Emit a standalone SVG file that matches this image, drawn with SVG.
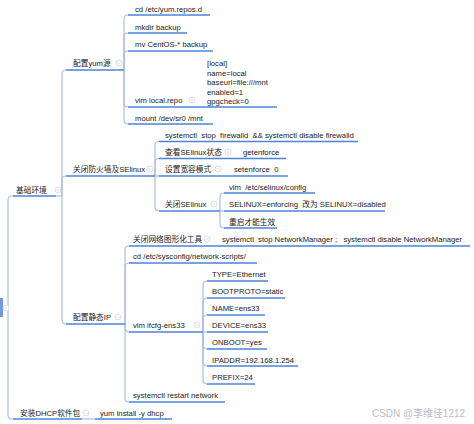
<svg xmlns="http://www.w3.org/2000/svg" width="474" height="424" viewBox="0 0 474 424">
<defs>
<style>
.t{font-family:"Liberation Sans","Noto Sans CJK SC",sans-serif;font-size:7.7px;fill:#222;white-space:pre}
.ul{stroke:#4a84d6;stroke-width:1.6;fill:none}
.c{stroke:#a9bfe3;stroke-width:1.2;fill:none}
.ic{fill:#fff;stroke:#cfd5df;stroke-width:0.8}
.im{stroke:#cfd5df;stroke-width:0.8}
.wm{font-family:"Liberation Sans","Noto Sans CJK SC",sans-serif;font-size:10.5px;fill:#bdbdbd}
</style>
<g id="icon"><circle class="ic" cx="0" cy="0" r="3"/><line class="im" x1="-1.6" y1="0" x2="1.6" y2="0"/></g>
</defs>
<rect width="474" height="424" fill="#fff"/>

<g id="connectors">
<path class="c" d="M3 308 H8"/>
<path class="c" d="M8 308 V200 Q8 196 12 196 H13"/>
<path class="c" d="M8 308 V415 Q8 419 12 419 H13"/>
<path class="c" d="M56 196 H62"/>
<path class="c" d="M62 196 V74 Q62 70 66 70"/>
<path class="c" d="M62 196 V180 Q62 176 66 176"/>
<path class="c" d="M62 196 V320 Q62 324 66 324"/>
<path class="c" d="M124 70 V19 Q124 15 128 15"/>
<path class="c" d="M124 70 V37 Q124 33 128 33"/>
<path class="c" d="M124 70 V55 Q124 51 128 51"/>
<path class="c" d="M124 70 V103 Q124 107 128 107"/>
<path class="c" d="M124 70 V120 Q124 124 128 124"/>
<path class="c" d="M155 176 V145.5 Q155 141.5 159 141.5"/>
<path class="c" d="M155 176 V162.5 Q155 158.5 159 158.5"/>
<path class="c" d="M155 176 H159"/>
<path class="c" d="M155 176 V207 Q155 211 159 211"/>
<path class="c" d="M220 211 V197 Q220 193 224 193"/>
<path class="c" d="M220 211 H224"/>
<path class="c" d="M220 211 V224 Q220 228 224 228"/>
<path class="c" d="M125 324 V250 Q125 246 129 246"/>
<path class="c" d="M125 324 V267 Q125 263 129 263"/>
<path class="c" d="M125 324 V328 Q125 332 129 332"/>
<path class="c" d="M125 324 V398 Q125 402 129 402"/>
<path class="c" d="M203 332 V285 Q203 281 207 281"/>
<path class="c" d="M203 332 V302 Q203 298 207 298"/>
<path class="c" d="M203 332 V319 Q203 315 207 315"/>
<path class="c" d="M203 332 H207"/>
<path class="c" d="M203 332 V345 Q203 349 207 349"/>
<path class="c" d="M203 332 V362 Q203 366 207 366"/>
<path class="c" d="M203 332 V380 Q203 384 207 384"/>
<path class="c" d="M82 419 H95"/>
</g>

<g id="root">
<rect x="0" y="298" width="3" height="19" fill="#6e9be0"/>
<use href="#icon" x="6" y="308"/>
</g>

<g id="n-jichu">
<text class="t" x="16" y="193">基础环境</text>
<line class="ul" x1="13" y1="196" x2="56" y2="196"/>
<use href="#icon" x="58" y="190"/>
</g>

<g id="n-dhcp">
<text class="t" x="20" y="416">安装DHCP软件包</text>
<line class="ul" x1="13" y1="419" x2="82" y2="419"/>
<use href="#icon" x="86" y="413"/>
</g>
<g id="n-dhcp-1">
<text class="t" x="100" y="416">yum install -y dhcp</text>
<line class="ul" x1="95" y1="419" x2="172" y2="419"/>
</g>

<g id="n-yum">
<text class="t" x="73" y="66">配置yum源</text>
<line class="ul" x1="66" y1="70" x2="124" y2="70"/>
<use href="#icon" x="119" y="63"/>
</g>
<g id="n-yum-1"><text class="t" x="135" y="12">cd /etc/yum.repos.d</text><line class="ul" x1="128" y1="15" x2="210" y2="15"/></g>
<g id="n-yum-2"><text class="t" x="135" y="30">mkdir backup</text><line class="ul" x1="128" y1="33" x2="187" y2="33"/></g>
<g id="n-yum-3"><text class="t" x="135" y="47">mv CentOS-* backup</text><line class="ul" x1="128" y1="51" x2="213" y2="51"/></g>
<g id="n-yum-4"><text class="t" x="135" y="103">vim local.repo</text><line class="ul" x1="128" y1="107" x2="202" y2="107"/><use href="#icon" x="192" y="100"/></g>
<g id="n-yum-4-1">
<text class="t" x="207" y="66">[local]</text>
<text class="t" x="207" y="75.5">name=local</text>
<text class="t" x="207" y="85">baseurl=file:///mnt</text>
<text class="t" x="207" y="94.5">enabled=1</text>
<text class="t" x="207" y="104">gpgcheck=0</text>
<line class="ul" x1="202" y1="107" x2="277" y2="107"/>
</g>
<g id="n-yum-5"><text class="t" x="135" y="121">mount /dev/sr0 /mnt</text><line class="ul" x1="128" y1="124" x2="213" y2="124"/></g>

<g id="n-fw">
<text class="t" x="73" y="172">关闭防火墙及SElinux</text>
<line class="ul" x1="66" y1="176" x2="155" y2="176"/>
<use href="#icon" x="150" y="169"/>
</g>
<g id="n-fw-1"><text class="t" x="165" y="138">systemctl  stop  firewalld  &amp;&amp; systemctl disable firewalld</text><line class="ul" x1="159" y1="141.5" x2="358" y2="141.5"/></g>
<g id="n-fw-2"><text class="t" x="165" y="155">查看SElinux状态</text><line class="ul" x1="159" y1="158.5" x2="235" y2="158.5"/><use href="#icon" x="228" y="152"/></g>
<g id="n-fw-2-1"><text class="t" x="243" y="155">getenforce</text><line class="ul" x1="235" y1="158.5" x2="286" y2="158.5"/></g>
<g id="n-fw-3"><text class="t" x="165" y="172">设置宽容模式</text><line class="ul" x1="159" y1="176" x2="229" y2="176"/><use href="#icon" x="218" y="169"/></g>
<g id="n-fw-3-1"><text class="t" x="234" y="172">setenforce  0</text><line class="ul" x1="229" y1="176" x2="288" y2="176"/></g>
<g id="n-fw-4"><text class="t" x="165" y="207">关闭SElinux</text><line class="ul" x1="159" y1="211" x2="220" y2="211"/><use href="#icon" x="214" y="204"/></g>
<g id="n-fw-4-1"><text class="t" x="229" y="190">vim  /etc/selinux/config</text><line class="ul" x1="224" y1="193" x2="315" y2="193"/></g>
<g id="n-fw-4-2"><text class="t" x="229" y="207">SELINUX=enforcing  改为 SELINUX=disabled</text><line class="ul" x1="224" y1="211" x2="385" y2="211"/></g>
<g id="n-fw-4-3"><text class="t" x="229" y="225">重启才能生效</text><line class="ul" x1="224" y1="228" x2="277" y2="228"/></g>

<g id="n-ip">
<text class="t" x="73" y="320">配置静态IP</text>
<line class="ul" x1="66" y1="324" x2="125" y2="324"/>
<use href="#icon" x="118" y="317"/>
</g>
<g id="n-ip-1"><text class="t" x="133" y="242">关闭网络图形化工具</text><line class="ul" x1="129" y1="246" x2="215" y2="246"/><use href="#icon" x="207" y="239"/></g>
<g id="n-ip-1-1"><text class="t" x="222" y="242" textLength="240" lengthAdjust="spacing">systemctl  stop NetworkManager ;   systemctl disable NetworkManager</text><line class="ul" x1="215" y1="246" x2="470" y2="246"/></g>
<g id="n-ip-2"><text class="t" x="133" y="259">cd /etc/sysconfig/network-scripts/</text><line class="ul" x1="129" y1="263" x2="257" y2="263"/></g>
<g id="n-ip-3"><text class="t" x="133" y="328">vim ifcfg-ens33</text><line class="ul" x1="129" y1="332" x2="203" y2="332"/><use href="#icon" x="197" y="325"/></g>
<g id="n-ip-3-1"><text class="t" x="212" y="277">TYPE=Ethernet</text><line class="ul" x1="207" y1="281" x2="268" y2="281"/></g>
<g id="n-ip-3-2"><text class="t" x="212" y="294">BOOTPROTO=static</text><line class="ul" x1="207" y1="298" x2="285" y2="298"/></g>
<g id="n-ip-3-3"><text class="t" x="212" y="311">NAME=ens33</text><line class="ul" x1="207" y1="315" x2="265" y2="315"/></g>
<g id="n-ip-3-4"><text class="t" x="212" y="328">DEVICE=ens33</text><line class="ul" x1="207" y1="332" x2="268" y2="332"/></g>
<g id="n-ip-3-5"><text class="t" x="212" y="345">ONBOOT=yes</text><line class="ul" x1="207" y1="349" x2="267" y2="349"/></g>
<g id="n-ip-3-6"><text class="t" x="212" y="363">IPADDR=192.168.1.254</text><line class="ul" x1="207" y1="366" x2="298" y2="366"/></g>
<g id="n-ip-3-7"><text class="t" x="212" y="380">PREFIX=24</text><line class="ul" x1="207" y1="384" x2="255" y2="384"/></g>
<g id="n-ip-4"><text class="t" x="133" y="398">systemctl restart network</text><line class="ul" x1="129" y1="402" x2="225" y2="402"/></g>

<text class="wm" x="372" y="417" textLength="93" lengthAdjust="spacingAndGlyphs">CSDN @李维佳1212</text>
</svg>
